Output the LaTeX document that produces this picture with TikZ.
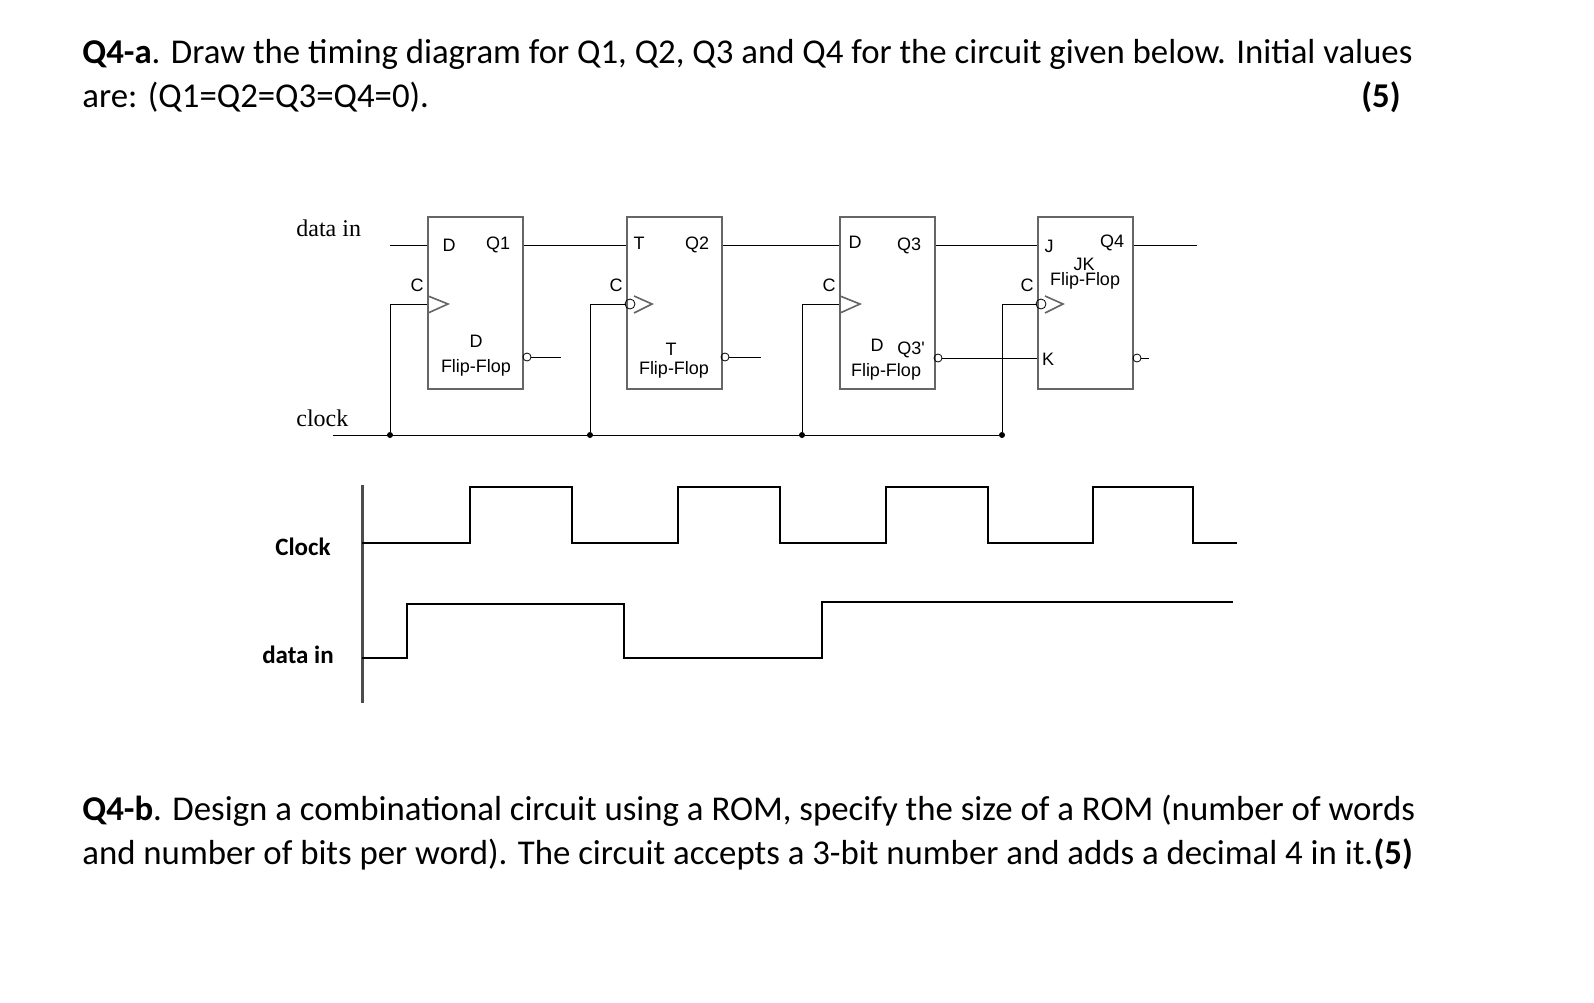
\documentclass[tikz,border=0pt]{standalone}
\usepackage{fontspec}
\setmainfont{Carlito}
\newfontfamily\ffont{Liberation Sans}
\newfontfamily\sfont{Liberation Serif}
\usetikzlibrary{positioning}
\tikzset{
  ff/.style={draw=black!60, line width=1pt, minimum width=47.5pt, minimum height=86pt, inner sep=0pt},
  pin/.style={font=\ffont\fontsize{9}{10}\selectfont, inner sep=0pt},
  lbl/.style={font=\sfont\fontsize{12}{13}\selectfont, inner sep=0pt, anchor=west},
  wave/.style={line width=1.4pt},
  bub/.style={circle, draw, inner sep=0pt, minimum size=4pt},
  dot/.style={circle, fill, inner sep=0pt, minimum size=3pt}
}
\begin{document}
\begin{tikzpicture}[x=0.5pt, y=-0.5pt, font=\fontsize{17.4}{20}\selectfont]
  \useasboundingbox (0,0) rectangle (1594,1002);

  % Question text
  \node[anchor=base west, inner sep=0pt] (qa1) at (82,63) {\textbf{Q4-a}. Draw the timing diagram for Q1, Q2, Q3 and Q4 for the circuit given below. Initial values};
  \node[anchor=base west, inner sep=0pt] (qa2) at (82,107) {are: (Q1=Q2=Q3=Q4=0).};
  \node[anchor=base east, inner sep=0pt] (qm) at (1401,107) {\textbf{(5)}};

  % Flip-flops
  \node[ff] (ff1) at (475.5,303) {};
  \node[ff] (ff2) at (674,303) {};
  \node[ff] (ff3) at (887,303) {};
  \node[ff] (ff4) at (1085.5,303) {};

  \node[pin] at (449,245) {D};
  \node[pin] at (498,245) {Q1};
  \node[pin] at (476,341) {D};
  \node[pin] at (476,368) {Flip-Flop};
  \node[pin] at (639,243) {T};
  \node[pin] at (697,245) {Q2};
  \node[pin] at (671,349) {T};
  \node[pin] at (674,370) {Flip-Flop};
  \node[pin] at (855,242) {D};
  \node[pin] at (909,246) {Q3};
  \node[pin] at (877,345) {D};
  \node[pin] at (911,350) {Q3'};
  \node[pin] at (886,372) {Flip-Flop};
  \node[pin] at (1049,246) {J};
  \node[pin] at (1112,243) {Q4};
  \node[pin] at (1084,264) {JK};
  \node[pin] at (1085,281) {Flip-Flop};
  \node[pin] at (1048,359) {K};

  % Clock pins
  \foreach \f/\x/\n in {ff1/428/0, ff2/627/1, ff3/840/0, ff4/1038/1} {
    \node[pin] at (\x-11,285) {C};
    \ifnum\n=0
      \draw[black!60, line width=0.8pt] (\x,296) -- (\x+20,304) -- (\x,313);
    \else
      \node[bub, minimum size=5pt] at (\x+3,304) {};
      \draw[black!60, line width=0.8pt] (\x+7,296) -- (\x+25,304) -- (\x+7,313);
    \fi
  }

  % Inverted outputs
  \node[bub] (nq1) at (527,357) {};
  \node[bub] (nq2) at (725,357) {};
  \node[bub] (nq3) at (938,358) {};
  \node[bub] (nq4) at (1137,358) {};
  \coordinate (e1) at (561,357);
  \coordinate (e2) at (761,357);
  \coordinate (e4) at (1149,358);
  \draw (nq1) -- (e1);
  \draw (nq2) -- (e2);
  \draw (nq4) -- (e4);
  \draw (nq3) -- (ff4.west |- nq3);

  % Data path
  \node[lbl] (din) at (296,228) {data in};
  \coordinate (dstart) at (390,245);
  \coordinate (qout) at (1197,245);
  \draw (dstart) -- (ff1.west |- dstart);
  \draw (ff1.east |- dstart) -- (ff2.west |- dstart);
  \draw (ff2.east |- dstart) -- (ff3.west |- dstart);
  \draw (ff3.east |- dstart) -- (ff4.west |- dstart);
  \draw (ff4.east |- dstart) -- (qout);

  % Clock path
  \node[lbl] (clk) at (296,418) {clock};
  \coordinate (cstart) at (333,435);
  \node[dot] (d1) at (390,435) {};
  \node[dot] (d2) at (590,435) {};
  \node[dot] (d3) at (802,435) {};
  \node[dot] (d4) at (1002,435) {};
  \draw (cstart) -- (d4);
  \draw (d1) |- (ff1.west |- 0,304);
  \draw (d2) |- (ff2.west |- 0,304);
  \draw (d3) |- (ff3.west |- 0,304);
  \draw (d4) |- (ff4.west |- 0,304);

  % Timing diagram
  \coordinate (atop) at (362,485);
  \coordinate (abot) at (362,703);
  \draw[line width=1.5pt, black!70] (atop) -- (abot);
  \node[font=\bfseries\fontsize{12.5}{14}\selectfont] (tclk) at (303,547) {Clock};
  \node[font=\bfseries\fontsize{12.5}{14}\selectfont] (tdin) at (298,655) {data in};
  \draw[wave] (362,543) -- (470,543) -- (470,487) -- (572,487) -- (572,543)
    -- (678,543) -- (678,487) -- (780,487) -- (780,543)
    -- (886,543) -- (886,487) -- (988,487) -- (988,543)
    -- (1093,543) -- (1093,487) -- (1193,487) -- (1193,543) -- (1237,543);
  \draw[wave] (362,658) -- (407,658) -- (407,604) -- (624,604) -- (624,658)
    -- (822,658) -- (822,602) -- (1233,602);

  % Part b
  \node[anchor=base west, inner sep=0pt] (qb1) at (82,820) {\textbf{Q4-b}. Design a combinational circuit using a ROM, specify the size of a ROM (number of words};
  \node[anchor=base west, inner sep=0pt] (qb2) at (82,864) {and number of bits per word). The circuit accepts a 3-bit number and adds a decimal 4 in it.\textbf{(5)}};
\end{tikzpicture}
\end{document}
